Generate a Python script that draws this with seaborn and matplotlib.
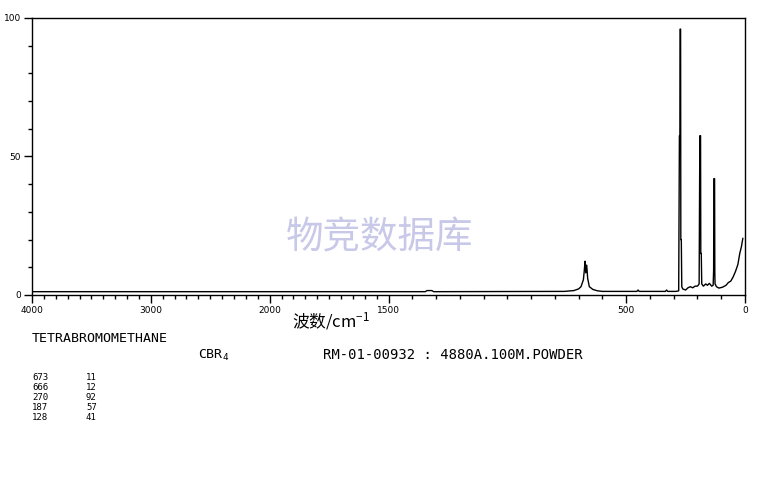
import numpy as np
import pandas as pd
import matplotlib
matplotlib.use("Agg")
import matplotlib.pyplot as plt
import seaborn as sns
from matplotlib.ticker import FixedLocator

# ---- data ----
wavenumber = [4000, 1345, 1338, 1318, 1310, 760, 720, 700, 690, 680, 676, 673, 670, 666,
              662, 655, 640, 620, 600, 455, 450, 445, 335, 330, 325,
              290, 279, 276, 274, 273, 271, 270, 268, 266, 262, 250, 240, 230, 220, 210,
              200, 193, 190, 188, 187, 186, 184, 182, 175, 165, 158, 150, 140, 134,
              132, 131, 128, 127, 126, 120, 110, 95, 80, 70, 60, 50, 40, 30, 22, 15, 12, 9]
intensity = [1.2, 1.2, 1.6, 1.6, 1.2, 1.3, 1.6, 2.2, 3.0, 5.5, 9.0, 12.2, 8.0, 10.8,
             6.0, 3.0, 2.0, 1.5, 1.3, 1.3, 1.8, 1.3, 1.3, 1.8, 1.3,
             1.3, 1.5, 57.5, 57.5, 96.0, 96.0, 20.0, 20.0, 3.0, 2.2, 1.8, 2.6, 3.0, 2.6, 3.2,
             3.2, 4.0, 57.5, 57.5, 57.5, 15.0, 15.0, 4.0, 3.2, 4.0, 3.5, 4.2, 3.2, 3.5,
             9.0, 42.0, 42.0, 8.0, 4.0, 3.0, 2.5, 2.8, 3.5, 4.5, 5.0, 6.5, 8.5, 11.0, 15.0, 17.5, 19.0, 20.5]

x_major = [4000, 3000, 2000, 1500, 500, 0]
x_major_labels = ["4000", "3000", "2000", "1500", "500", "0"]
y_major = [0, 50, 100]

compound = "TETRABROMOMETHANE"
formula = "CBR$_4$"
sample_info = "RM-01-00932 : 4880A.100M.POWDER"
peak_wn = ["673", "666", "270", "187", "128"]
peak_int = ["11", "12", "92", "57", "41"]
watermark = "物竞数据库"

df = pd.DataFrame({"wn": wavenumber, "I": intensity})

sns.set_style("white")
plt.rcParams["font.family"] = ["DejaVu Sans"]
plt.rcParams["mathtext.default"] = "regular"

W, H = 761, 478
fig = plt.figure(figsize=(W / 100, H / 100), dpi=100)
ax = fig.add_axes([32 / W, 1 - 295 / H, 713 / W, 277 / H])


def fwd(x):
    x = np.asarray(x, dtype=float)
    return np.where(x <= 2000, x, 2000 + (x - 2000) / 2.0)


def inv(u):
    u = np.asarray(u, dtype=float)
    return np.where(u <= 2000, u, 2000 + (u - 2000) * 2.0)


sns.lineplot(data=df, x="wn", y="I", ax=ax, sort=False, estimator=None,
             color="black", linewidth=1.0)
ax.set_xscale("function", functions=(fwd, inv))
ax.set_xlim(4000, 0)
ax.set_ylim(0, 100)

for s in ax.spines.values():
    s.set_visible(True)
    s.set_color("black")
    s.set_linewidth(1.0)

ax.xaxis.set_major_locator(FixedLocator(x_major))
ax.set_xticklabels(x_major_labels)
minor_x = list(range(3900, 2000, -100)) + list(range(1950, 1500, -50)) + \
    list(range(1400, 500, -100)) + list(range(400, 0, -100))
ax.xaxis.set_minor_locator(FixedLocator(minor_x))
ax.yaxis.set_major_locator(FixedLocator(y_major))
ax.yaxis.set_minor_locator(FixedLocator(list(range(10, 100, 10))))

ax.tick_params(axis="both", which="major", direction="out", length=6, width=1,
               color="black", labelsize=6.5, labelcolor="black", pad=2,
               bottom=True, left=True)
ax.tick_params(axis="both", which="minor", direction="out", length=3, width=1,
               color="black", bottom=True, left=True)
ax.set_xlabel("")
ax.set_ylabel("")

# watermark
fig.text(380 / W, 1 - 238 / H, watermark, ha="center", va="center",
         fontsize=27, color="#c8c8e8", family=["Noto Sans CJK SC", "DejaVu Sans"],
         zorder=0)

# x-axis label
fig.text(331 / W, 1 - 321 / H, "波数/cm$^{-1}$", ha="center", va="center",
         fontsize=12, color="black", family=["Noto Sans CJK SC", "DejaVu Sans"])

mono = "DejaVu Sans Mono"
fig.text(32 / W, 1 - 339 / H, compound, ha="left", va="center", fontsize=9.5,
         family=mono, color="black")
fig.text(198 / W, 1 - 355 / H, formula, ha="left", va="center", fontsize=9.5,
         family=mono, color="black")
fig.text(323 / W, 1 - 355 / H, sample_info, ha="left", va="center", fontsize=10,
         family=mono, color="black")
for i, (a, b) in enumerate(zip(peak_wn, peak_int)):
    y = 378 + i * 10
    fig.text(32 / W, 1 - y / H, a, ha="left", va="center", fontsize=6.5,
             family=mono, color="black")
    fig.text(86 / W, 1 - y / H, b, ha="left", va="center", fontsize=6.5,
             family=mono, color="black")

fig.savefig("out.png", dpi=100)
